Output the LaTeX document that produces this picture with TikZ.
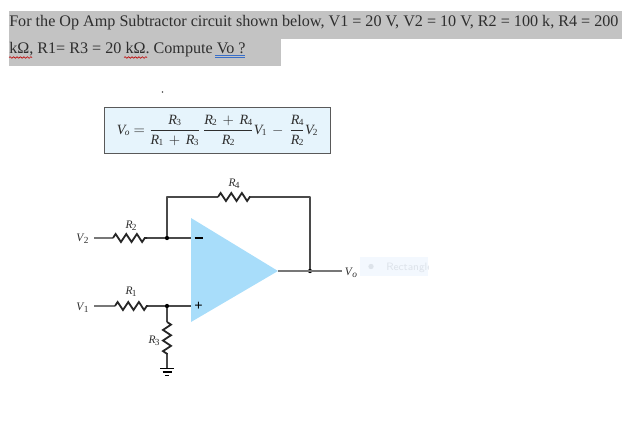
\documentclass[tikz,border=0pt]{standalone}
\usepackage{fontspec}
\setmainfont{Liberation Serif}
\usetikzlibrary{decorations.pathmorphing}
\definecolor{band}{HTML}{C3C3C3}
\definecolor{ink}{HTML}{2E2E2E}
\definecolor{wirec}{HTML}{4A4A4A}
\definecolor{boxfill}{HTML}{E6F4FC}
\definecolor{amp}{HTML}{A8DDFA}
\definecolor{ghost}{HTML}{F3F8FE}
\definecolor{ghosttext}{HTML}{DDE3EA}
\definecolor{uhue}{HTML}{3A6FC8}
\newcommand{\vi}[2]{\textit{#1}\kern-0.5pt\lower1.2pt\hbox{\scriptsize #2}}
\tikzset{
  headtext/.style={anchor=base west,inner sep=0pt,font=\fontsize{12.1}{12}\selectfont,text=ink},
  wire/.style={draw=wirec,line width=1pt,line join=round},
  wirethin/.style={draw=wirec!75,line width=0.9pt},
  res/.style={draw=black!85,line width=1.35pt,line join=miter,decorate,
    decoration={zigzag,segment length=10.6*0.75pt,amplitude=4*0.75pt}},
  lab/.style={inner sep=0pt,font=\fontsize{8.6}{9}\selectfont,text=ink},
  jdot/.style={circle,fill=black,inner sep=0pt,minimum size=3.2pt},
  sign/.style={inner sep=0pt,font=\bfseries\fontsize{11}{11}\selectfont,text=black},
  squig/.style={draw=red!75!black,line width=0.45pt,decorate,
    decoration={snake,segment length=2.6pt,amplitude=0.6pt}},
  uline/.style={draw=uhue,line width=0.6pt}
}
\begin{document}
\begin{tikzpicture}[x=0.75pt,y=-0.75pt]
\useasboundingbox (0,0) rectangle (638,424);
% header bands
\fill[band] (9,11) rectangle (622,39);
\fill[band] (9,39) rectangle (281,66);
\node[headtext] (line1) at (9,27) {For the Op Amp Subtractor circuit shown below, V1 = 20 V, V2 = 10 V, R2 = 100 k, R4 = 200};
\node[headtext] (line2) at (9,54) {kΩ, R1= R3 = 20 kΩ. Compute Vo ?};
\draw[squig] (9,57.5) -- (32,57.5);
\draw[squig] (124,57.5) -- (147,57.5);
\draw[uline] (215,55.5) -- (245,55.5);
\draw[uline] (215,57.5) -- (245,57.5);
% stray dot
\fill[black!70] (162.5,92) circle (0.6pt);
% formula
\node[draw=black!65,line width=0.7pt,fill=boxfill,minimum width=169pt,minimum height=35pt,inner sep=0pt,
  font=\fontsize{10.6}{12}\selectfont,text=ink] (formula) at (217.3,130.5)
  {$\displaystyle \vi{V}{\textit{o}} = \frac{\vi{R}{3}}{\vi{R}{1} \,+\, \vi{R}{3}}\,\frac{\vi{R}{2} \,+\, \vi{R}{4}}{\vi{R}{2}}\vi{V}{1} \,-\, \frac{\vi{R}{4}}{\vi{R}{2}}\vi{V}{2}$};
% op amp
\fill[amp] (191,218) coordinate (tl) -- (278,271) coordinate (tip) -- (191,322) coordinate (bl) -- cycle;
\coordinate (inm) at (191,238);
\coordinate (inp) at (191,306);
\node[sign] (minus) at (198.5,238) {\rule{6pt}{1.2pt}};
\node[sign] (plus) at (198.5,306) {+};
% junctions & endpoints
\node[jdot] (jm) at (167,238) {};
\node[jdot] (jp) at (167,306) {};
\node[jdot] (jo) at (310,271) {};
\coordinate (cfl) at (167,197);
\coordinate (cfr) at (310,197);
\coordinate (r4a) at (218,197);
\coordinate (r4b) at (250,197);
\coordinate (r2a) at (113,238);
\coordinate (r2b) at (147,238);
\coordinate (r1a) at (115,306);
\coordinate (r1b) at (148,306);
\coordinate (r3a) at (167,322);
\coordinate (r3b) at (167,354);
\coordinate (gnd) at (167,368);
\coordinate (v2w) at (94,238);
\coordinate (v1w) at (94,306);
\coordinate (vow) at (342,271);
% wires
\draw[wire] (jm) -- (cfl) -- (r4a);
\draw[wire] (r4b) -- (cfr) -- (jo);
\draw[wirethin] (v2w) -- (r2a);
\draw[wire] (r2b) -- (jm) -- (inm);
\draw[wirethin] (v1w) -- (r1a);
\draw[wire] (r1b) -- (jp) -- (inp);
\draw[wire] (jp) -- (r3a);
\draw[wire] (r3b) -- (gnd);
\draw[wirethin] (tip) -- (vow);
% resistors
\draw[res] (r4a) -- (r4b);
\draw[res] (r2a) -- (r2b);
\draw[res] (r1a) -- (r1b);
\draw[res] (r3a) -- (r3b);
% ground
\draw[black,line width=0.9pt] (160,368.5) -- (174,368.5);
\draw[black,line width=0.9pt] (162.5,372) -- (171.5,372);
\draw[black,line width=0.9pt] (165,375.5) -- (169,375.5);
% labels
\node[lab] (lv2) at (82.5,238.5) {\vi{V}{2}};
\node[lab] (lv1) at (82.5,307.5) {\vi{V}{1}};
\node[lab] (lr2) at (131,226) {\vi{R}{2}};
\node[lab] (lr4) at (234,184) {\vi{R}{4}};
\node[lab] (lr1) at (131,292) {\vi{R}{1}};
\node[lab] (lr3) at (154,341) {\vi{R}{3}};
\node[lab] (lvo) at (351,272.5) {\vi{V}{\textit{o}}};
% ghost rectangle label
\fill[ghost] (360,257) rectangle (428,276);
\fill[ghosttext] (371,266.5) circle (2pt);
\begin{scope}
\clip (360,257) rectangle (428,276);
\node[anchor=base west,inner sep=0pt,font=\fontsize{8}{8}\sffamily,text=ghosttext] (ghostlab) at (386,270) {Rectangle};
\end{scope}
\end{tikzpicture}
\end{document}
